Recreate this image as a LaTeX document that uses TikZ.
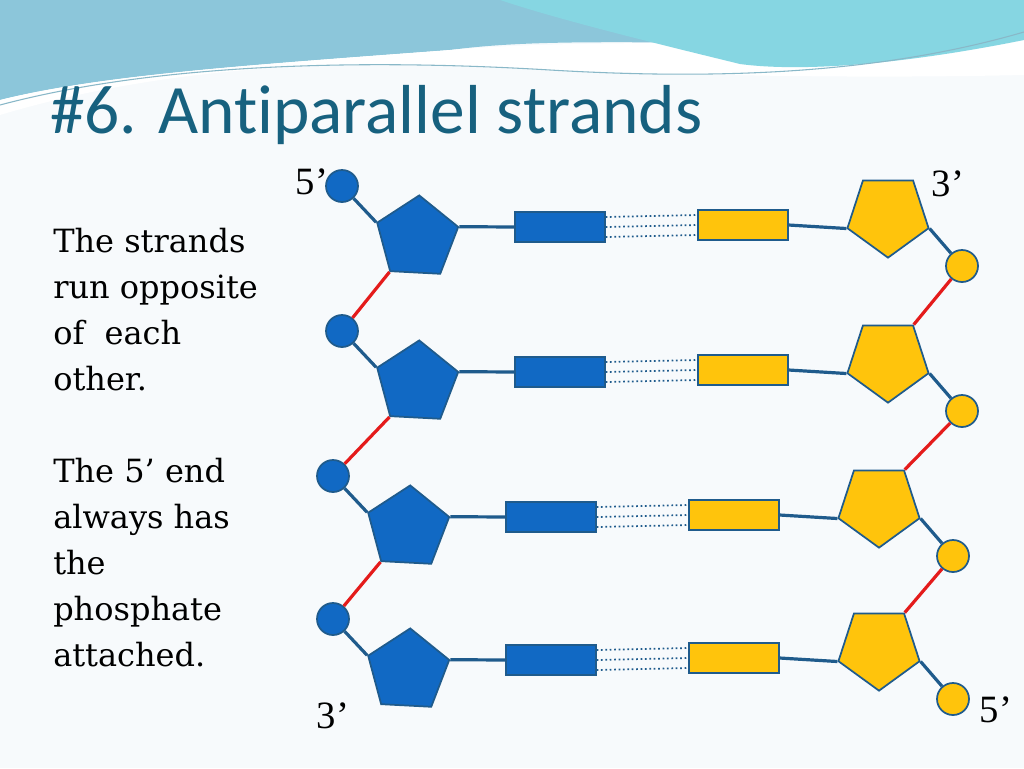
\documentclass[tikz,border=0pt]{standalone}
\usepackage{fontspec}
\setmainfont{DejaVu Serif}
\newfontfamily\labfont{Liberation Serif}
\newfontfamily\titlefont[Ligatures=NoCommon]{Carlito}
\usetikzlibrary{shapes.geometric}
\definecolor{bfill}{HTML}{1169C4}
\definecolor{bdraw}{HTML}{1F5B8C}
\definecolor{yfill}{HTML}{FFC40C}
\definecolor{rline}{HTML}{E41B1B}
\definecolor{ttl}{HTML}{17617F}
\definecolor{wave1}{HTML}{8CC6DA}
\definecolor{wave2}{HTML}{86D6E2}
\definecolor{bg}{HTML}{F7FAFC}
\tikzset{
 px/.style={x=0.75pt,y=-0.75pt},
 phos/.style={circle,draw=bdraw,line width=1.3pt,minimum size=24pt,inner sep=0},
 sug/.style={regular polygon,regular polygon sides=5,draw=bdraw,line width=1.3pt,minimum size=64pt,inner sep=0},
 base/.style={rectangle,draw=bdraw,line width=1.3pt,minimum width=67pt,minimum height=22pt,inner sep=0},
 bond/.style={draw=bdraw,line width=2.4pt},
 bb/.style={draw=rline,line width=2.4pt},
 hb/.style={draw=bdraw,line width=1.3pt,dotted},
 lab/.style={font=\labfont\fontsize{29}{29}\selectfont,inner sep=0},
}
\begin{document}
\begin{tikzpicture}[px]
\useasboundingbox (0,0) rectangle (1024,768);
\fill[bg] (0,0) rectangle (1024,768);
% top waves
\fill[wave1] (0,0) -- (1024,0) -- (1024,20) .. controls (800,60) and (600,30) .. (450,50) .. controls (250,65) and (100,75) .. (0,100) -- cycle;
\fill[white] (0,100) .. controls (100,75) and (250,65) .. (450,50) .. controls (600,37) and (750,50) .. (1024,30) -- (1024,75) .. controls (800,80) and (600,72) .. (450,66) .. controls (250,58) and (100,85) .. (0,115) -- cycle;
\fill[wave2] (500,0) -- (1024,0) -- (1024,40) .. controls (900,65) and (800,72) .. (740,64) .. controls (650,42) and (560,20) .. (500,0) -- cycle;
\draw[wave1!80!gray,line width=0.8pt] (0,105) .. controls (150,65) and (350,58) .. (550,70) .. controls (750,82) and (900,68) .. (1024,32);
\node[text=ttl,font=\titlefont\fontsize{52}{52}\selectfont,anchor=base west,inner sep=0] (title) at (50,133) {\#6. Antiparallel strands};
\node[anchor=north west,align=left,inner sep=0,font=\fontsize{24}{34.5}\selectfont] (txt) at (53,228) {The strands\\run opposite\\of\ \ each\\other.\\[34.5pt]The 5’ end\\always has\\the\\phosphate\\attached.};
% rows
\foreach \i/\y/\dx/\dy in {1/0/0/0,2/145/0/0,3/290/-9/0,4/433/-9/0}{
 \node[phos,fill=bfill] (p\i) at (342+\dx,186+\y) {};
 \node[sug,fill=bfill,rotate=-3] (s\i) at (417+\dx,238+\y) {};
 \node[base,fill=bfill] (b\i) at (560+\dx,227+\y) {};
 \node[base,fill=yfill] (c\i) at (743+\dx,225+\y) {};
 \node[sug,fill=yfill,rotate=180] (t\i) at (888+\dx,215+\y) {};
 \node[phos,fill=yfill] (q\i) at (962+\dx,266+\y) {};
 \draw[bond] (p\i) -- (s\i.corner 2);
 \draw[bond] (s\i.corner 5) -- (b\i.west);
 \draw[bond] (c\i.east) -- (t\i.corner 5);
 \draw[bond] (t\i.corner 2) -- (q\i);
 \draw[hb] ([yshift=-7.5pt]b\i.east) -- ([yshift=-7.5pt]c\i.west);
 \draw[hb] (b\i.east) -- (c\i.west);
 \draw[hb] ([yshift=7.5pt]b\i.east) -- ([yshift=7.5pt]c\i.west);
}
\foreach \a/\b in {1/2,2/3,3/4}{
 \draw[bb] (s\a.corner 3) -- (p\b);
 \draw[bb] (q\a) -- (t\b.corner 3);
}
\node[lab] (l1) at (312,182) {5’};
\node[lab] (l2) at (948,184) {3’};
\node[lab] (l3) at (333,716) {3’};
\node[lab] (l4) at (996,710) {5’};
\end{tikzpicture}
\end{document}
